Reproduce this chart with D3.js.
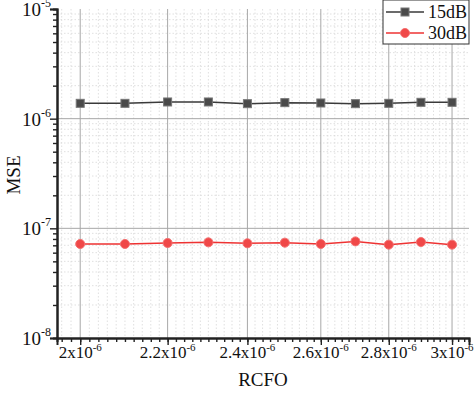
<!DOCTYPE html>
<html>
<head>
<meta charset="utf-8">
<script src="https://cdn.jsdelivr.net/npm/d3@7"></script>
<style>
  body { margin: 0; background: #fff; }
  text { font-family: "Liberation Serif", "Times New Roman", serif; fill: #111; }
</style>
</head>
<body>
<div id="chart"></div>
<script>
// data
var rcfo = [2.0e-6, 2.1e-6, 2.2e-6, 2.3e-6, 2.4e-6, 2.5e-6, 2.6e-6, 2.7e-6, 2.8e-6, 2.9e-6, 3.0e-6];
var mse15 = [1.38e-6, 1.38e-6, 1.42e-6, 1.42e-6, 1.37e-6, 1.40e-6, 1.39e-6, 1.37e-6, 1.38e-6, 1.41e-6, 1.41e-6];
var mse30 = [7.2e-8, 7.2e-8, 7.35e-8, 7.45e-8, 7.3e-8, 7.4e-8, 7.2e-8, 7.6e-8, 7.1e-8, 7.5e-8, 7.1e-8];
var xMajor = [2.0e-6, 2.2e-6, 2.4e-6, 2.6e-6, 2.8e-6, 3.0e-6];
var xMajorLabels = ["2", "2.2", "2.4", "2.6", "2.8", "3"];
var yMajor = [1e-8, 1e-7, 1e-6, 1e-5];
var yExp = ["-8", "-7", "-6", "-5"];
var seriesNames = ["15dB", "30dB"];

var width = 474, height = 393;
// plot box (note: "top" is reserved on window, so use plot* names)
var plotLeft = 57, plotRight = 469, plotTop = 9, plotBottom = 338;

var svg = d3.select("#chart").append("svg")
  .attr("width", width).attr("height", height);

var x = d3.scaleLog().domain([1.95e-6, 3.056e-6]).range([plotLeft, plotRight]);
var y = d3.scaleLog().domain([1e-8, 1e-5]).range([plotBottom, plotTop]);

// minor ticks
var xMinor = d3.range(98, 153, 1).map(function(k) { return k * 2e-8; })
  .filter(function(v) { return v >= 1.95e-6 && v <= 3.056e-6; });
var yMinor = [];
[1e-8, 1e-7, 1e-6].forEach(function(dec) {
  for (var m = 2; m <= 9; m++) yMinor.push(dec * m);
});

function isMajorX(v) {
  return xMajor.some(function(m) { return Math.abs(m - v) < 1e-9; });
}

// grid
var grid = svg.append("g");
grid.selectAll(".vminor").data(xMinor.filter(function(v) { return !isMajorX(v); }))
  .enter().append("line")
  .attr("x1", function(d) { return x(d); }).attr("x2", function(d) { return x(d); })
  .attr("y1", plotTop).attr("y2", plotBottom)
  .attr("stroke", "#d8d8d8").attr("stroke-width", 0.8).attr("stroke-dasharray", "1.5,2");
grid.selectAll(".hminor").data(yMinor)
  .enter().append("line")
  .attr("x1", plotLeft).attr("x2", plotRight)
  .attr("y1", function(d) { return y(d); }).attr("y2", function(d) { return y(d); })
  .attr("stroke", "#d8d8d8").attr("stroke-width", 0.8).attr("stroke-dasharray", "1.5,2");
grid.selectAll(".vmajor").data(xMajor)
  .enter().append("line")
  .attr("x1", function(d) { return x(d); }).attr("x2", function(d) { return x(d); })
  .attr("y1", plotTop).attr("y2", plotBottom)
  .attr("stroke", "#a8a8a8").attr("stroke-width", 1);
grid.selectAll(".hmajor").data(yMajor.slice(1, 3))
  .enter().append("line")
  .attr("x1", plotLeft).attr("x2", plotRight)
  .attr("y1", function(d) { return y(d); }).attr("y2", function(d) { return y(d); })
  .attr("stroke", "#a8a8a8").attr("stroke-width", 1);

// axes
var xAxisMinor = d3.axisBottom(x).tickValues(xMinor).tickSize(4).tickFormat("");
var xAxisMajor = d3.axisBottom(x).tickValues(xMajor).tickSize(7).tickFormat("");
var yAxisMinor = d3.axisLeft(y).tickValues(yMinor).tickSize(4).tickFormat("");
var yAxisMajor = d3.axisLeft(y).tickValues(yMajor).tickSize(7).tickFormat("");

[xAxisMinor, xAxisMajor].forEach(function(ax) {
  svg.append("g").attr("transform", "translate(0," + plotBottom + ")").call(ax)
    .call(function(g) {
      g.select(".domain").attr("stroke", "#222").attr("stroke-width", 2);
      g.selectAll(".tick line").attr("stroke", "#222").attr("stroke-width", 1.4);
    });
});
[yAxisMinor, yAxisMajor].forEach(function(ax) {
  svg.append("g").attr("transform", "translate(" + plotLeft + ",0)").call(ax)
    .call(function(g) {
      g.select(".domain").attr("stroke", "#222").attr("stroke-width", 2);
      g.selectAll(".tick line").attr("stroke", "#222").attr("stroke-width", 1.4);
    });
});

// x tick labels
var xl = svg.append("g").selectAll("text").data(xMajor).enter().append("text")
  .attr("x", function(d) { return x(d); })
  .attr("y", 358)
  .attr("text-anchor", "middle")
  .style("font-size", "17px");
xl.append("tspan").text(function(d, i) { return xMajorLabels[i] + "x10"; });
xl.append("tspan").attr("dy", -7).style("font-size", "11px").text("-6");

// y tick labels
var yl = svg.append("g").selectAll("text").data(yMajor).enter().append("text")
  .attr("x", 51)
  .attr("y", function(d) { return y(d) + 7; })
  .attr("text-anchor", "end")
  .style("font-size", "19px");
yl.append("tspan").text("10");
yl.append("tspan").attr("dy", -9).style("font-size", "12px")
  .text(function(d, i) { return yExp[i]; });

// axis titles
svg.append("text").attr("x", 263).attr("y", 386).attr("text-anchor", "middle")
  .style("font-size", "19px").text("RCFO");
svg.append("text").attr("transform", "translate(20,175) rotate(-90)")
  .attr("text-anchor", "middle").style("font-size", "19px").text("MSE");

// series
var line = d3.line().x(function(d) { return x(d[0]); }).y(function(d) { return y(d[1]); });
var s15 = rcfo.map(function(v, i) { return [v, mse15[i]]; });
var s30 = rcfo.map(function(v, i) { return [v, mse30[i]]; });

svg.append("path").datum(s15).attr("d", line)
  .attr("fill", "none").attr("stroke", "#3a3a3a").attr("stroke-width", 1.5);
svg.append("g").selectAll("rect").data(s15).enter().append("rect")
  .attr("x", function(d) { return x(d[0]) - 4; })
  .attr("y", function(d) { return y(d[1]) - 4; })
  .attr("width", 8).attr("height", 8)
  .attr("fill", "#4a4a4a").attr("stroke", "#777").attr("stroke-width", 1);

svg.append("path").datum(s30).attr("d", line)
  .attr("fill", "none").attr("stroke", "#ee3333").attr("stroke-width", 1.5);
svg.append("g").selectAll("circle").data(s30).enter().append("circle")
  .attr("cx", function(d) { return x(d[0]); })
  .attr("cy", function(d) { return y(d[1]); })
  .attr("r", 4.5)
  .attr("fill", "#f04848").attr("stroke", "#f47070").attr("stroke-width", 1);

// legend
var lg = svg.append("g");
lg.append("rect").attr("x", 383).attr("y", 0).attr("width", 86).attr("height", 44)
  .attr("fill", "#fff").attr("stroke", "#333").attr("stroke-width", 1);
seriesNames.forEach(function(name, i) {
  var cy = 12 + i * 21;
  var col = i === 0 ? "#3a3a3a" : "#ee3333";
  lg.append("line").attr("x1", 386).attr("x2", 424).attr("y1", cy).attr("y2", cy)
    .attr("stroke", col).attr("stroke-width", 1.5);
  if (i === 0) {
    lg.append("rect").attr("x", 401).attr("y", cy - 4).attr("width", 8).attr("height", 8)
      .attr("fill", "#4a4a4a").attr("stroke", "#777");
  } else {
    lg.append("circle").attr("cx", 405).attr("cy", cy).attr("r", 4.5)
      .attr("fill", "#f04848").attr("stroke", "#f47070");
  }
  lg.append("text").attr("x", 428).attr("y", cy + 6).style("font-size", "18px").text(name);
});
</script>
</body>
</html>
